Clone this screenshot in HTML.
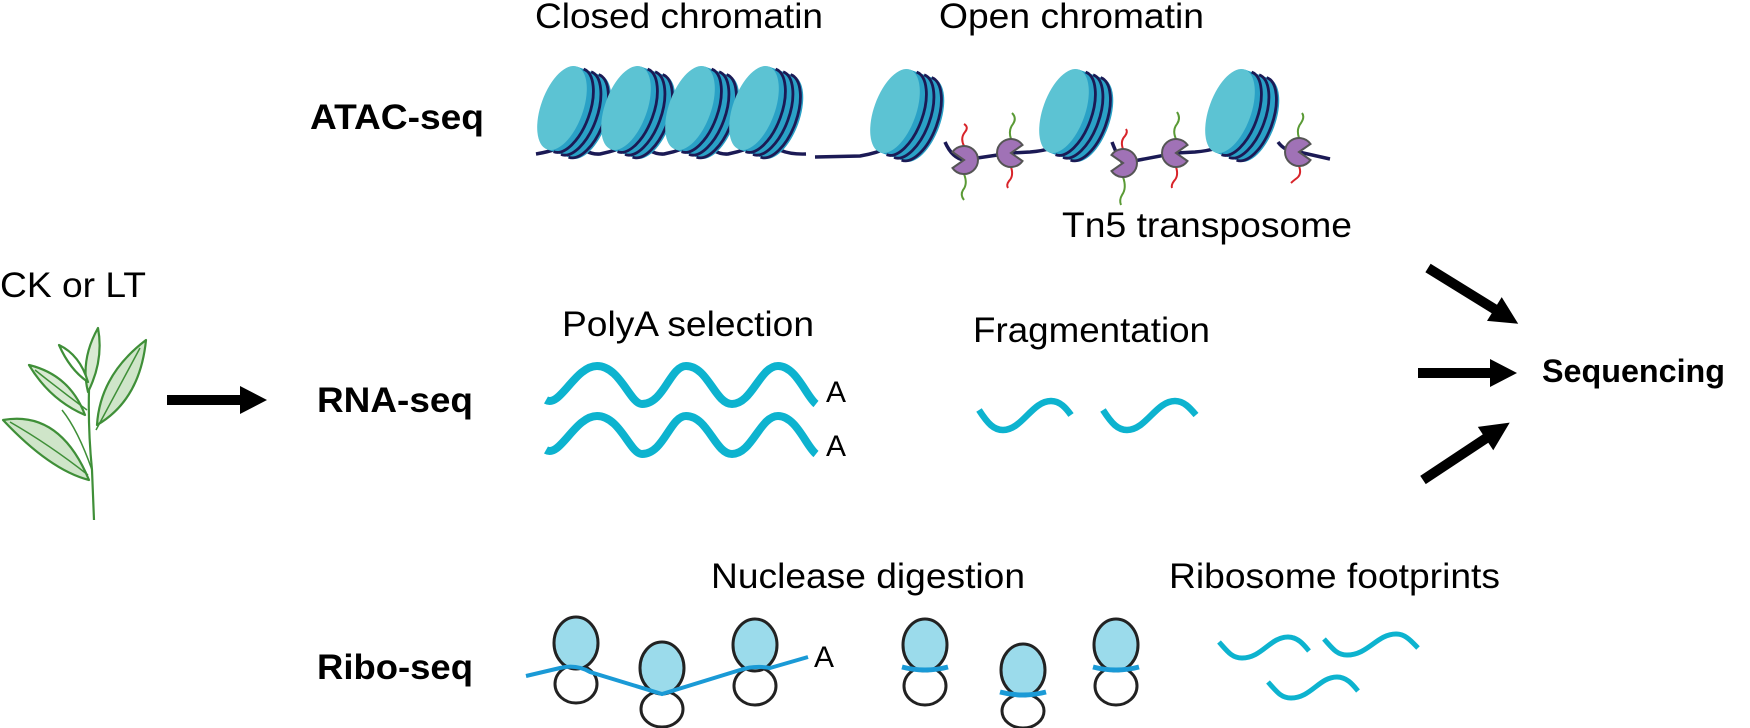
<!DOCTYPE html>
<html><head><meta charset="utf-8"><style>
html,body{margin:0;padding:0;background:#fff;}
svg{display:block;}
text{font-family:"Liberation Sans",Arial,sans-serif;fill:#000;}
.b{font-weight:bold;}
</style></head><body>
<svg width="1750" height="728" viewBox="0 0 1750 728" xmlns="http://www.w3.org/2000/svg">
<defs>
  <g id="nuc">
    <g transform="rotate(20)">
      <ellipse cx="26" cy="0" rx="21" ry="44" fill="#2aa1c6"/>
      <rect x="0" y="-44" width="26" height="88" fill="#2aa1c6"/>
      <ellipse cx="0" cy="0" rx="21" ry="44" fill="#5cc3d3"/>
      <path d="M7,-44 A21,44 0 0 1 7,44" fill="none" stroke="#1b1a55" stroke-width="2.8"/>
      <path d="M15,-44 A21,44 0 0 1 15,44" fill="none" stroke="#1b1a55" stroke-width="2.8"/>
      <path d="M23,-44 A21,44 0 0 1 23,44" fill="none" stroke="#1b1a55" stroke-width="2.8"/>
    </g>
  </g>
  <g id="pacR">
    <path d="M0,0 L11.5,-8 A14,14 0 1 0 11.5,8 Z" fill="#a072b6" stroke="#555" stroke-width="2"/>
  </g>
  <g id="pacL">
    <path d="M0,0 L-11.5,-8 A14,14 0 1 1 -11.5,8 Z" fill="#a072b6" stroke="#555" stroke-width="2"/>
  </g>
</defs>

<text x="535" y="28" font-size="35" textLength="288" lengthAdjust="spacingAndGlyphs">Closed chromatin</text>
<text x="939" y="28" font-size="35" textLength="265" lengthAdjust="spacingAndGlyphs">Open chromatin</text>
<text class="b" x="310" y="129" font-size="35" textLength="174" lengthAdjust="spacingAndGlyphs">ATAC-seq</text>
<text x="1062" y="237" font-size="35" textLength="290" lengthAdjust="spacingAndGlyphs">Tn5 transposome</text>
<text x="0" y="297" font-size="35" textLength="146" lengthAdjust="spacingAndGlyphs">CK or LT</text>
<text x="562" y="336" font-size="35" textLength="252" lengthAdjust="spacingAndGlyphs">PolyA selection</text>
<text x="973" y="342" font-size="35" textLength="237" lengthAdjust="spacingAndGlyphs">Fragmentation</text>
<text class="b" x="317" y="412" font-size="35" textLength="156" lengthAdjust="spacingAndGlyphs">RNA-seq</text>
<text class="b" x="1542" y="382" font-size="32" textLength="183" lengthAdjust="spacingAndGlyphs">Sequencing</text>
<text x="826" y="402" font-size="30">A</text>
<text x="826" y="456" font-size="30">A</text>
<text x="711" y="588" font-size="35" textLength="314" lengthAdjust="spacingAndGlyphs">Nuclease digestion</text>
<text x="1169" y="588" font-size="35" textLength="331" lengthAdjust="spacingAndGlyphs">Ribosome footprints</text>
<text class="b" x="317" y="679" font-size="35" textLength="156" lengthAdjust="spacingAndGlyphs">Ribo-seq</text>
<text x="814" y="667" font-size="30">A</text>

<path d="M536,154 Q560,150 575,140 Q585,155 600,154 Q620,150 639,140 Q650,155 664,154 Q684,150 703,140 Q714,155 728,154 Q748,150 767,140 Q778,155 806,154" fill="none" stroke="#1b1a55" stroke-width="3.5"/>
<use href="#nuc" x="562" y="108"/>
<use href="#nuc" x="626" y="108"/>
<use href="#nuc" x="690" y="108"/>
<use href="#nuc" x="754" y="108"/>

<path d="M815,157 L860,156 Q885,152 900,140 M945,142 Q952,158 964,160 L1011,153 L1030,152 Q1055,150 1068,140 M1112,142 Q1118,158 1123,163 L1176,153 L1195,152 Q1220,150 1234,140 M1278,142 Q1285,152 1299,152 L1330,159" fill="none" stroke="#1b1a55" stroke-width="3.5"/>
<use href="#nuc" x="895" y="111"/>
<use href="#nuc" x="1064" y="111"/>
<use href="#nuc" x="1230" y="111"/>
<g fill="none" stroke-width="2">
  <path d="M964,146 Q960,138 965,132 Q969,127 964,124" stroke="#d8242a"/>
  <path d="M964,174 Q968,184 963,190 Q960,195 964,200" stroke="#5a9a35"/>
  <path d="M1011,139 Q1008,130 1013,124 Q1017,118 1012,113" stroke="#5a9a35"/>
  <path d="M1011,167 Q1014,176 1009,181 Q1006,185 1008,188" stroke="#d8242a"/>
  <path d="M1123,149 Q1120,141 1125,136 Q1128,132 1126,129" stroke="#d8242a"/>
  <path d="M1123,177 Q1127,188 1122,195 Q1119,200 1121,205" stroke="#5a9a35"/>
  <path d="M1176,139 Q1172,130 1177,124 Q1181,118 1177,112" stroke="#5a9a35"/>
  <path d="M1176,167 Q1179,176 1174,181 Q1171,185 1172,188" stroke="#d8242a"/>
  <path d="M1299,138 Q1296,129 1301,123 Q1305,117 1302,113" stroke="#5a9a35"/>
  <path d="M1299,166 Q1302,174 1297,178 Q1293,181 1291,183" stroke="#d8242a"/>
</g>
<use href="#pacL" x="964" y="160"/>
<use href="#pacR" x="1011" y="153"/>
<use href="#pacL" x="1123" y="163"/>
<use href="#pacR" x="1176" y="153"/>
<use href="#pacR" x="1299" y="152"/>

<g fill="#fff" stroke="#3f8f38" stroke-width="2.2" stroke-linejoin="round">
  <path d="M94,520 L92,470 Q88,430 89,390 Q90,360 98,328"/>
  <path d="M88,392 Q80,360 98,328 Q104,360 88,392 Z" fill="#d9ead3"/>
  <path d="M88,382 Q70,370 59,345 Q80,355 88,382 Z"/>
  <path d="M97,425 Q100,375 146,340 Q140,400 97,425 Z" fill="#cfe5c9"/>
  <path d="M85,415 Q50,400 29,365 Q70,375 85,415 Z" fill="#d9ead3"/>
  <path d="M89,480 Q50,470 3,420 Q60,410 89,480 Z" fill="#cfe5c9"/>
  <path d="M92,470 Q78,430 62,410 M96,430 Q120,385 140,348 M87,410 Q60,390 35,370 M88,475 Q50,445 10,422" fill="none" stroke-width="1.5"/>
</g>

<path d="M167,395 L240,395 L240,386 L267,400 L240,414 L240,405 L167,405 Z" fill="#000"/>
<path d="M1418,368 L1490,368 L1490,359 L1517,373 L1490,387 L1490,378 L1418,378 Z" fill="#000"/>
<g transform="translate(1428,268) rotate(31.7)"><path d="M0,-5 L78,-5 L78,-14 L106,0 L78,14 L78,5 L0,5 Z" fill="#000"/></g>
<g transform="translate(1423,480) rotate(-33.5)"><path d="M0,-5 L75,-5 L75,-14 L104,0 L75,14 L75,5 L0,5 Z" fill="#000"/></g>

<g fill="none" stroke="#0db3cf" stroke-width="8">
  <path d="M546,400 C560,408 575,366 597,366 C620,366 630,404 642,404 C664,404 670,366 686,366 C708,366 715,404 732,404 C752,404 760,366 778,366 C796,366 806,396 816,404"/>
  <path d="M546,450 C560,458 575,416 597,416 C620,416 630,454 642,454 C664,454 670,416 686,416 C708,416 715,454 732,454 C752,454 760,416 778,416 C796,416 806,446 816,454"/>
</g>
<g fill="none" stroke="#0db3cf" stroke-width="6.5">
  <path d="M979,410 C988,424 994,430 1003,430 C1022,430 1032,401 1051,401 C1060,401 1066,408 1071,415"/>
  <path d="M1103,410 C1112,424 1118,430 1127,430 C1146,430 1156,401 1175,401 C1184,401 1190,408 1196,415"/>
</g>
<g fill="none" stroke="#0db3cf" stroke-width="5">
  <path d="M1219,642 C1228,652 1232,658 1242,658 C1262,658 1270,637 1288,637 C1298,637 1304,645 1309,651"/>
  <path d="M1324,639 C1333,649 1337,655 1347,655 C1368,655 1377,634 1396,634 C1406,634 1412,642 1418,648"/>
  <path d="M1268,682 C1277,692 1281,698 1291,698 C1311,698 1319,677 1337,677 C1347,677 1353,685 1358,691"/>
</g>

<g stroke="#222" stroke-width="3">
  <ellipse cx="576" cy="684" rx="21" ry="19" fill="#fff"/>
  <ellipse cx="662" cy="709" rx="21" ry="18" fill="#fff"/>
  <ellipse cx="755" cy="686" rx="21" ry="19" fill="#fff"/>
  <ellipse cx="576" cy="643" rx="22" ry="26" fill="#9bdbeb"/>
  <ellipse cx="662" cy="668" rx="22" ry="26" fill="#9bdbeb"/>
  <ellipse cx="755" cy="645" rx="22" ry="26" fill="#9bdbeb"/>

  <ellipse cx="925" cy="686" rx="21" ry="19" fill="#fff"/>
  <ellipse cx="1023" cy="711" rx="21" ry="17" fill="#fff"/>
  <ellipse cx="1116" cy="686" rx="21" ry="19" fill="#fff"/>
  <ellipse cx="925" cy="645" rx="22" ry="26" fill="#9bdbeb"/>
  <ellipse cx="1023" cy="670" rx="22" ry="26" fill="#9bdbeb"/>
  <ellipse cx="1116" cy="645" rx="22" ry="26" fill="#9bdbeb"/>
</g>
<path d="M526,676 L560,668 Q576,664 590,672 L662,694 L740,670 Q755,665 770,668 L808,657" fill="none" stroke="#1a9ad6" stroke-width="4"/>
<g fill="none" stroke="#1a9ad6" stroke-width="5">
  <path d="M902,667 Q925,673 948,667"/>
  <path d="M1000,692 Q1023,698 1046,692"/>
  <path d="M1093,667 Q1116,673 1139,667"/>
</g>
</svg>
</body></html>
